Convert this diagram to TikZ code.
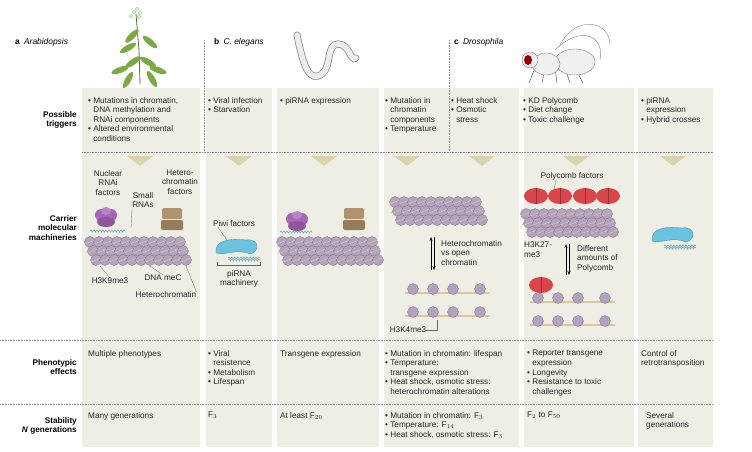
\documentclass[tikz,border=0pt]{standalone}
\usepackage{fontspec}
\setmainfont{Liberation Sans}
\usetikzlibrary{decorations.pathmorphing,arrows.meta,shapes.geometric}
\definecolor{panel}{HTML}{EFEEE5}
\definecolor{tri}{HTML}{D9D3AE}
\definecolor{nucf}{HTML}{B3A3BE}
\definecolor{nucd}{HTML}{7E6E8C}
\definecolor{dnac}{HTML}{D9C79E}
\definecolor{purp}{HTML}{A865B5}
\definecolor{tanc}{HTML}{B0926C}
\definecolor{bluec}{HTML}{6CC3DF}
\definecolor{redc}{HTML}{D9454A}
\definecolor{leaf}{HTML}{7BAA45}
\tikzset{
 x=1pt,y=-1pt,
 txt/.style={font=\fontsize{8.2}{9.6}\selectfont,align=left,anchor=north west,inner sep=0pt,text=black!85},
 rowlab/.style={font=\fontsize{8.2}{9.6}\selectfont\bfseries,align=right,anchor=east,inner sep=0pt},
 head/.style={font=\fontsize{8.4}{10}\selectfont,anchor=west,inner sep=0pt},
 lab/.style={font=\fontsize{8.2}{9.4}\selectfont,align=center,inner sep=0pt,text=black!85},
 sep/.style={densely dotted,black!45,line width=0.6pt},
 tria/.style={fill=tri,draw=none},
 nuc/.style={circle,fill=nucf,draw=nucd,line width=0.3pt,minimum size=11pt,inner sep=0pt},
 rna/.style={bluec!80!black,line width=0.4pt,decorate,decoration={snake,amplitude=1.2pt,segment length=3pt}},
 pics/chrom/.style n args={2}{code={
   \draw[dnac,line width=0.8pt] (-4,0) -- (#1*9+6,0);
   \foreach \r in {0,...,#2}{\foreach \c in {0,...,#1}{
     \node[nuc] at (\c*9+\r*3,\r*9-10) {};
     \draw[dnac,line width=0.5pt] (\c*9+\r*3-5,\r*9-8) -- (\c*9+\r*3+5,\r*9-12);}}
 }},
 pics/opench/.style={code={
   \draw[dnac,line width=1.5pt] (0,0) -- (85,0);
   \foreach \c in {8,28,48,75}{\node[nuc,minimum size=11pt] at (\c,-4) {};}
 }},
 pics/purpblob/.style={code={
   \fill[purp] (-5,-3) circle (6); \fill[purp] (5,-3) circle (6);
   \fill[purp!85!black] (0,4) ellipse (9 and 5); \fill[purp!80!white] (0,-7) ellipse (5 and 4);}},
 pics/tanblob/.style={code={
   \fill[tanc,rounded corners=2pt] (-10,-12) rectangle (10,-1);
   \fill[tanc!85!black,rounded corners=2pt] (-11,0) rectangle (11,10);}},
 pics/blueblob/.style={code={
   \fill[bluec,draw=bluec!70!black,line width=0.3pt] (-20,5) .. controls (-22,-8) and (-5,-10) .. (10,-8) .. controls (24,-10) and (24,4) .. (14,6) .. controls (0,0) and (-10,8) .. (-20,5);
   \draw[rna] (-8,10) -- (24,10); \draw[rna] (-8,12) -- (24,12);}},
 pics/redblob/.style={code={
   \fill[redc] (0,0) ellipse (12 and 8); \draw[redc!70!black,line width=0.3pt] (0,-8) -- (0,8);}},
}
\begin{document}
\begin{tikzpicture}
\useasboundingbox (0,0) rectangle (752,451);
\fill[white] (0,0) rectangle (752,451);
% panels
\foreach \a/\b [count=\i] in {82/200,206/272,277/379,384/519,524/634,638/713}{
  \fill[panel] (\a,88) rectangle (\b,447);}
% separators
\draw[sep] (82,152) -- (713,152);
\draw[sep] (0,340) -- (713,340);
\draw[sep] (0,404) -- (713,404);
\draw[sep] (204,40) -- (204,152);
\draw[sep] (449,40) -- (449,152);
% triangles
\foreach \x in {140,239,324,407,482,576,673}{\fill[tria] (\x-13,156) -- (\x+13,156) -- (\x,166) -- cycle;}
% headers
\node[head] (ha) at (15,42) {\textbf{a}\enspace\textit{Arabidopsis}};
\node[head] (hb) at (214,42) {\textbf{b}\enspace\textit{C. elegans}};
\node[head] (hc) at (454,42) {\textbf{c}\enspace\textit{Drosophila}};
% plant
\draw[leaf!70!black,line width=0.8pt] (140,84) -- (139,50) -- (136,14);
\foreach \x/\y/\a in {120/70/20,158/70/-20,128/80/60,152/79/-60,133/62/35,148/62/-30,128/48/30,150/42/-40,132/36/45}{
  \fill[leaf] (\x,\y) ellipse[x radius=9,y radius=3,rotate=\a];}
\foreach \x/\y in {134/12,137/9,140/13,131/16,139/17}{\fill[white,draw=leaf,line width=0.3pt] (\x,\y) circle (1.6);}
% worm
\draw[black!50,line width=7pt,line cap=round] (297,35) .. controls (304,70) and (310,82) .. (322,74) .. controls (332,66) and (326,44) .. (338,44) .. controls (350,44) and (350,62) .. (356,58);
\draw[gray!15,line width=5.6pt,line cap=round] (297,35) .. controls (304,70) and (310,82) .. (322,74) .. controls (332,66) and (326,44) .. (338,44) .. controls (350,44) and (350,62) .. (356,58);
% fly
\draw[gray,line width=0.4pt] (560,45) .. controls (575,15) and (610,20) .. (610,45);
\draw[gray,line width=0.4pt] (555,50) .. controls (580,25) and (605,35) .. (600,60);
\foreach \x/\d in {535/-6,545/-3,555/2,565/5,575/8}{\draw[gray!70!black,line width=0.5pt] (\x,68) -- (\x+\d,83);}
\fill[gray!12,draw=gray,line width=0.4pt] (575,62) ellipse (20 and 13);
\fill[gray!12,draw=gray,line width=0.4pt] (546,64) ellipse (14 and 11);
\fill[gray!12,draw=gray,line width=0.4pt] (530,60) circle (8);
\fill[red!60!black] (528,60) ellipse (4 and 5);
% row labels
\node[rowlab] (r1) at (77,120) {Possible\\triggers};
\node[rowlab] (r2) at (77,228) {Carrier\\molecular\\machineries};
\node[rowlab] (r3) at (77,367) {Phenotypic\\effects};
\node[rowlab] (r4) at (77,426) {Stability\\\textit{N} generations};
% triggers
\node[txt] (t1) at (88,97) {\textbullet\ Mutations in chromatin,\\\phantom{\textbullet\ }DNA methylation and\\\phantom{\textbullet\ }RNAi components\\\textbullet\ Altered environmental\\\phantom{\textbullet\ }conditions};
\node[txt] (t2) at (208,97) {\textbullet\ Viral infection\\\textbullet\ Starvation};
\node[txt] (t3) at (280,97) {\textbullet\ piRNA expression};
\node[txt] (t4) at (385,97) {\textbullet\ Mutation in\\\phantom{\textbullet\ }chromatin\\\phantom{\textbullet\ }components\\\textbullet\ Temperature};
\node[txt] (t5) at (451,97) {\textbullet\ Heat shock\\\textbullet\ Osmotic\\\phantom{\textbullet\ }stress};
\node[txt] (t6) at (523,97) {\textbullet\ KD Polycomb\\\textbullet\ Diet change\\\textbullet\ Toxic challenge};
\node[txt] (t7) at (641,97) {\textbullet\ piRNA\\\phantom{\textbullet\ }expression\\\textbullet\ Hybrid crosses};
% carrier col 1
\pic at (90,252) {chrom={10}{2}};
\pic at (106,218) {purpblob};
\pic at (172,220) {tanblob};
\draw[rna] (90,231) -- (125,231);
\node[lab] (n1) at (108,183) {Nuclear\\RNAi\\factors};
\node[lab] (n2) at (143,200) {Small\\RNAs};
\node[lab] (n3) at (180,182) {Hetero-\\chromatin\\factors};
\node[lab] (n4) at (110,281) {H3K9me3};
\node[lab] (n5) at (163,278) {DNA meC};
\node[lab] (n6) at (166,295) {Heterochromatin};
\coordinate (c1) at (131,228); \draw[black!60,line width=0.3pt] (n2.south west) -- (c1);
\coordinate (c2) at (100,266); \draw[black!60,line width=0.3pt] (n4.north) -- (c2);
\coordinate (c3) at (150,266); \draw[black!60,line width=0.3pt] (n5.north) -- (c3);
\coordinate (c4) at (186,266); \draw[black!60,line width=0.3pt] (n6.north east) -- (c4);
% col 2
\node[lab] (p1) at (234,224) {Piwi factors};
\pic at (236,248) {blueblob};
\coordinate (c5) at (227,240); \draw[black!60,line width=0.3pt] (p1.south west) ++(5,0) -- (c5);
\draw[black!60,line width=0.4pt] (217,262) -- (217,265) -- (260,265) -- (260,262);
\node[lab] (p2) at (239,279) {piRNA\\machinery};
% col 3
\pic at (282,252) {chrom={10}{2}};
\pic at (297,222) {purpblob};
\pic at (354,220) {tanblob};
\draw[rna] (280,232) -- (312,232);
% col 4
\pic at (395,212) {chrom={9}{2}};
\draw[-{Stealth[length=4pt]},line width=0.5pt] (431,270) -- (431,237);
\draw[-{Stealth[length=4pt]},line width=0.5pt] (434,237) -- (434,270);
\node[txt] (d1) at (441,240) {Heterochromatin\\vs open\\chromatin};
\pic at (405,293) {opench};
\pic at (405,316) {opench};
\node[lab] (d2) at (408,330) {H3K4me3};
\coordinate (c6) at (437,320); \draw[black!60,line width=0.3pt] (d2.east) -| (c6);
% col 5
\node[lab] (e1) at (572,176) {Polycomb factors};
\pic at (526,224) {chrom={9}{2}};
\foreach \x in {536,560,585,608}{\pic at (\x,196) {redblob};}
\coordinate (c7) at (554,190); \draw[black!60,line width=0.3pt] (e1.south) ++(-16,0) -- (c7);
\node[txt] (e2) at (524,242) {H3K27-\\me3};
\draw[-{Stealth[length=4pt]},line width=0.5pt] (566,275) -- (566,244);
\draw[-{Stealth[length=4pt]},line width=0.5pt] (569,244) -- (569,275);
\node[txt] (e3) at (577,245) {Different\\amounts of\\Polycomb};
\pic at (541,285) {redblob};
\pic at (530,302) {opench};
\pic at (530,325) {opench};
% col 6
\pic at (672,236) {blueblob};
% phenotypic
\node[txt] (f1) at (88,350) {Multiple phenotypes};
\node[txt] (f2) at (208,350) {\textbullet\ Viral\\\phantom{\textbullet\ }resistence\\\textbullet\ Metabolism\\\textbullet\ Lifespan};
\node[txt] (f3) at (280,350) {Transgene expression};
\node[txt] (f4) at (385,350) {\textbullet\ Mutation in chromatin: lifespan\\\textbullet\ Temperature:\\\phantom{\textbullet\ }transgene expression\\\textbullet\ Heat shock, osmotic stress:\\\phantom{\textbullet\ }heterochromatin alterations};
\node[txt] (f5) at (527,350) {\textbullet\ Reporter transgene\\\phantom{\textbullet\ }expression\\\textbullet\ Longevity\\\textbullet\ Resistance to toxic\\\phantom{\textbullet\ }challenges};
\node[txt] (f6) at (641,350) {Control of\\retrotransposition};
% stability
\node[txt] (s1) at (88,412) {Many generations};
\node[txt] (s2) at (208,412) {F$_3$};
\node[txt] (s3) at (280,412) {At least F$_{20}$};
\node[txt] (s4) at (385,412) {\textbullet\ Mutation in chromatin: F$_3$\\\textbullet\ Temperature: F$_{14}$\\\textbullet\ Heat shock, osmotic stress: F$_3$};
\node[txt] (s5) at (527,412) {F$_2$ to F$_{50}$};
\node[txt] (s6) at (646,412) {Several\\generations};
\end{tikzpicture}
\end{document}
